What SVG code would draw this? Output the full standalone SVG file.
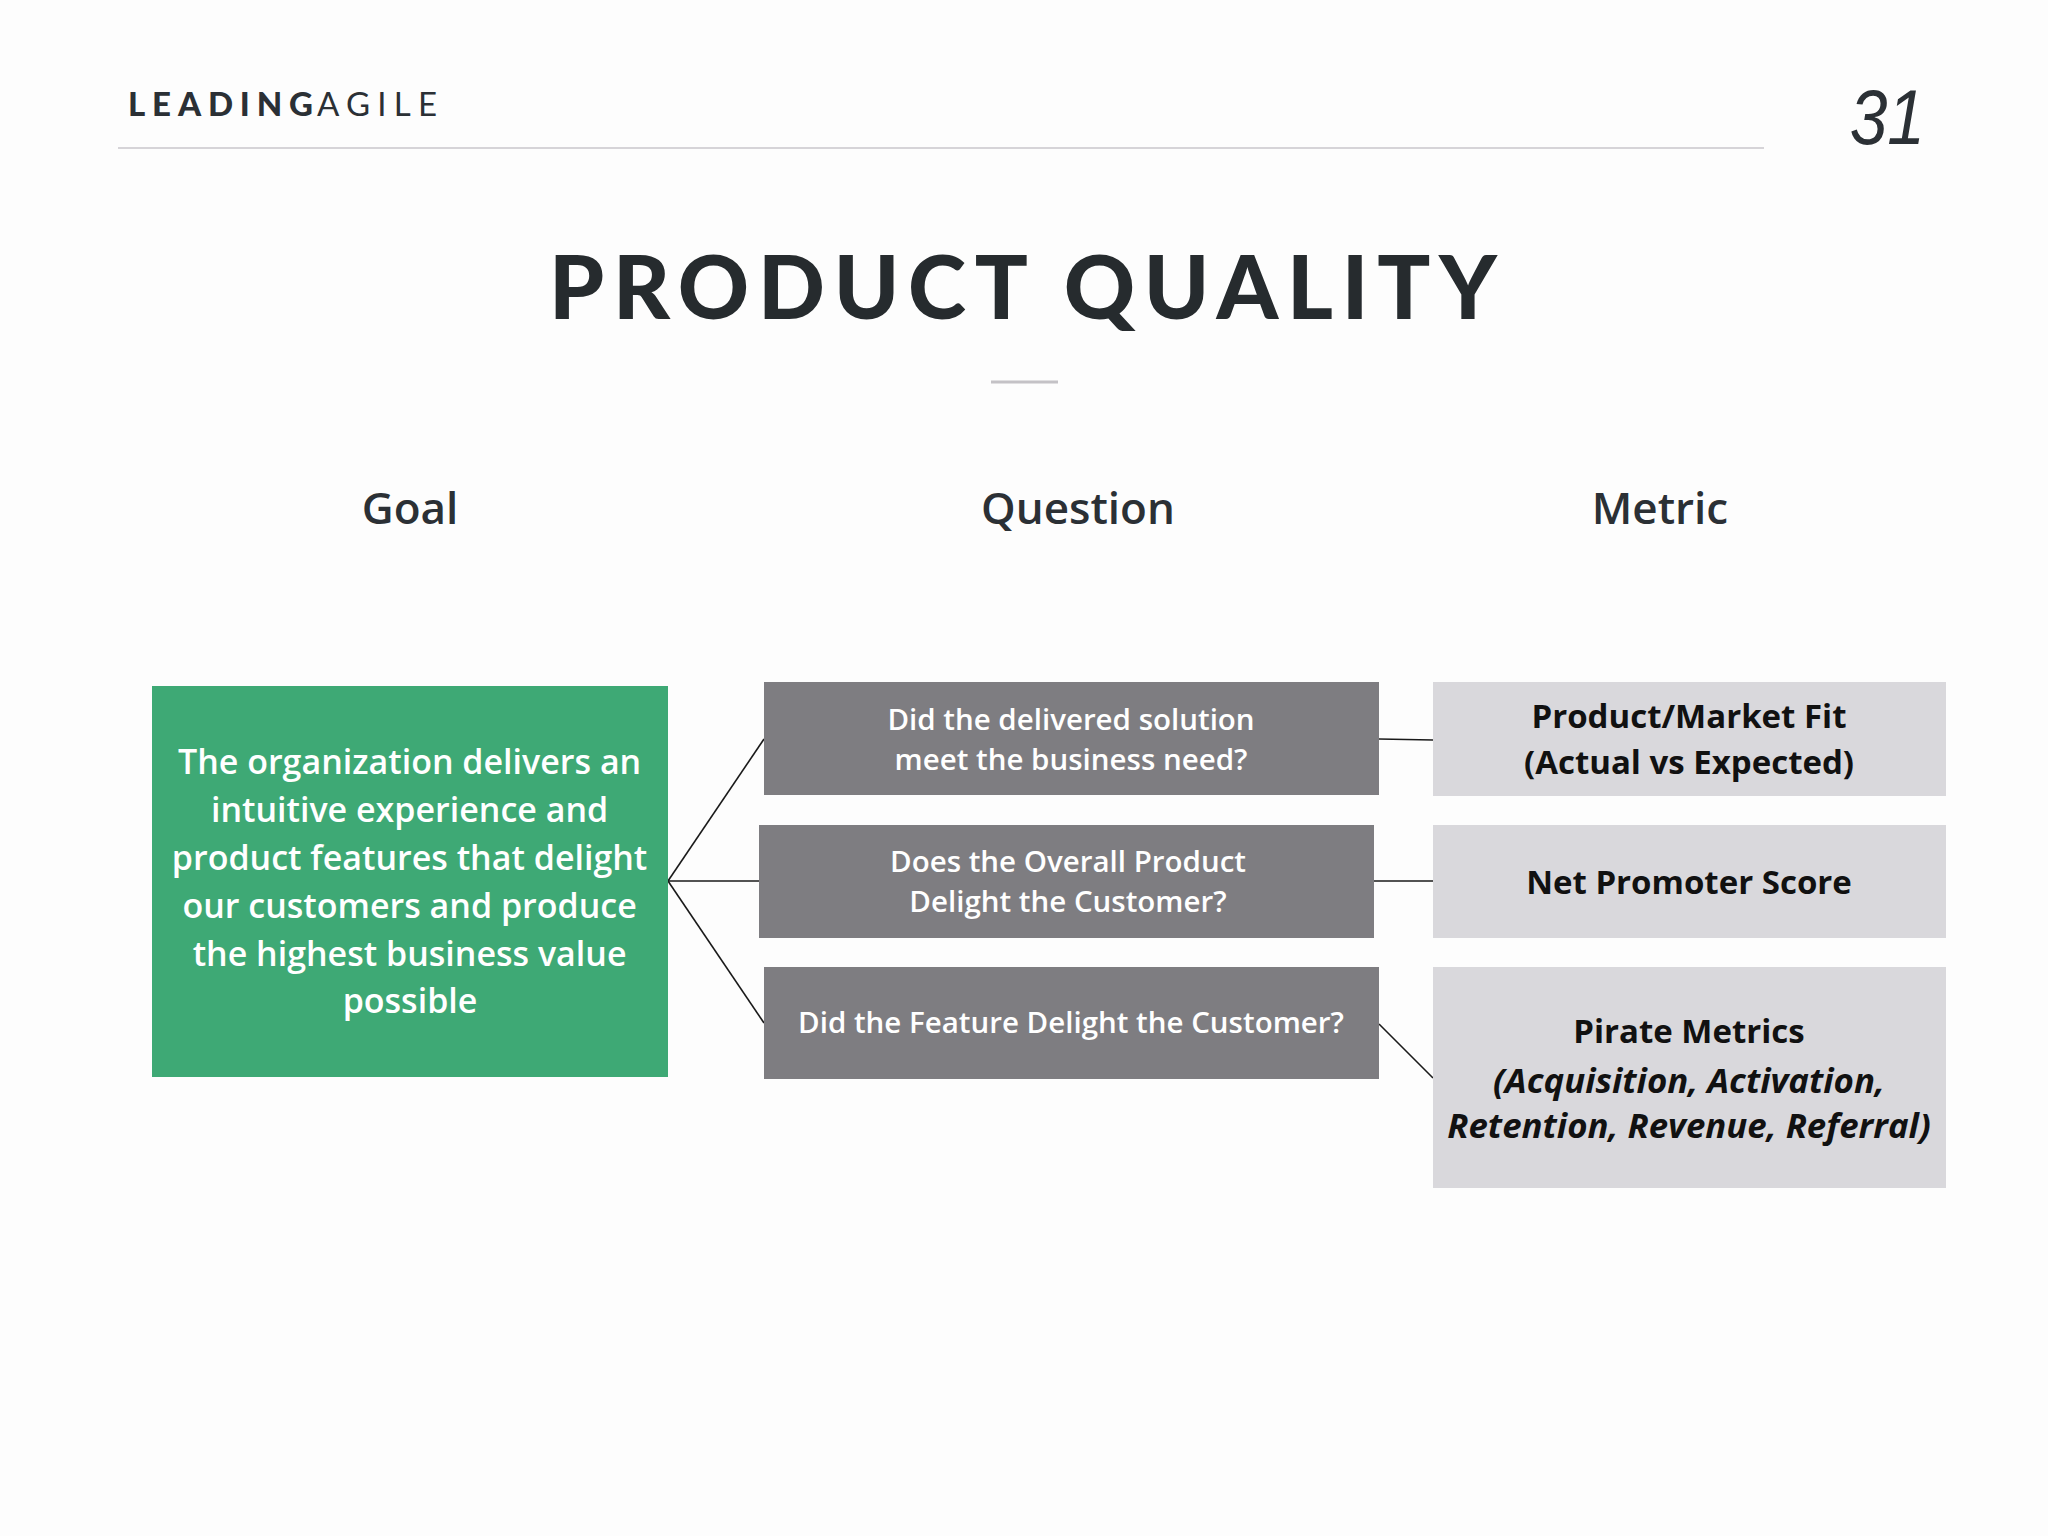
<svg xmlns="http://www.w3.org/2000/svg" width="2048" height="1536" viewBox="0 0 2048 1536">
<defs>
<style>
.bg{fill:#fdfdfd}
.goal{fill:#3ea975}
.q{fill:#7e7d81}
.m{fill:#d9d8dc}
.conn line{stroke:#1a1a1a;stroke-width:1.6;fill:none}
.t{font-family:"Open Sans","Noto Sans","Liberation Sans",sans-serif}
.gt{font-size:34px;font-weight:600;fill:#ffffff;text-anchor:middle}
.qt{font-size:29.5px;font-weight:600;fill:#ffffff;text-anchor:middle}
.mt{font-size:33px;font-weight:700;fill:#111111;text-anchor:middle}
.mi{font-size:34.8px;font-style:italic}
.hd{font-size:44px;font-weight:600;fill:#2b3035;text-anchor:middle}
</style>
</defs>
<rect class="bg" x="0" y="0" width="2048" height="1536"/>

<g id="header">
<text x="128" y="116" font-family="Lato,'Open Sans',sans-serif" font-size="33" font-weight="900" fill="#2b3035" textLength="185" lengthAdjust="spacing">LEADING</text>
<text x="317" y="116" font-family="Lato,'Open Sans',sans-serif" font-size="33" font-weight="400" fill="#2b3035" textLength="120" lengthAdjust="spacing">AGILE</text>
<line x1="118" y1="148" x2="1764" y2="148" stroke="#d6d4d8" stroke-width="2"/>
<text transform="translate(1925,144) scale(0.88,1)" x="0" y="0" font-family="'Liberation Sans',sans-serif" font-size="77" font-style="italic" fill="#2b3035" text-anchor="end">31</text>
</g>

<g id="title">
<text x="549" y="319" font-family="Lato,'Open Sans',sans-serif" font-size="88" font-weight="900" fill="#262b2e" textLength="948" lengthAdjust="spacing">PRODUCT QUALITY</text>
<line x1="991" y1="382" x2="1058" y2="382" stroke="#c4c2c6" stroke-width="3"/>
</g>

<g id="headings">
<text class="t hd" x="410" y="524">Goal</text>
<text class="t hd" x="1078" y="524">Question</text>
<text class="t hd" x="1660" y="524">Metric</text>
</g>

<g id="connectors" class="conn">
<line x1="668" y1="881" x2="764" y2="739"/>
<line x1="668" y1="881" x2="759" y2="881"/>
<line x1="668" y1="881" x2="764" y2="1023"/>
<line x1="1379" y1="739" x2="1433" y2="740"/>
<line x1="1374" y1="881" x2="1433" y2="881"/>
<line x1="1379" y1="1024" x2="1433" y2="1078"/>
</g>

<g id="goal">
<rect class="goal" x="152" y="686" width="516" height="391"/>
<text class="t gt">
<tspan x="414" y="774">The organization delivers an</tspan>
<tspan x="414" y="822">intuitive experience and</tspan>
<tspan x="414" y="870">product features that delight</tspan>
<tspan x="414" y="918">our customers and produce</tspan>
<tspan x="414" y="966">the highest business value</tspan>
<tspan x="410" y="1013">possible</tspan>
</text>
</g>

<g id="q1">
<rect class="q" x="764" y="682" width="615" height="113"/>
<text class="t qt"><tspan x="1071" y="730">Did the delivered solution</tspan><tspan x="1071" y="770">meet the business need?</tspan></text>
</g>
<g id="q2">
<rect class="q" x="759" y="825" width="615" height="113"/>
<text class="t qt"><tspan x="1068" y="872">Does the Overall Product</tspan><tspan x="1068" y="912">Delight the Customer?</tspan></text>
</g>
<g id="q3">
<rect class="q" x="764" y="967" width="615" height="112"/>
<text class="t qt" x="1071" y="1033">Did the Feature Delight the Customer?</text>
</g>

<g id="m1">
<rect class="m" x="1433" y="682" width="513" height="114"/>
<text class="t mt"><tspan x="1689" y="728">Product/Market Fit</tspan><tspan x="1689" y="774">(Actual vs Expected)</tspan></text>
</g>
<g id="m2">
<rect class="m" x="1433" y="825" width="513" height="113"/>
<text class="t mt" x="1689" y="894">Net Promoter Score</text>
</g>
<g id="m3">
<rect class="m" x="1433" y="967" width="513" height="221"/>
<text class="t mt"><tspan x="1689" y="1043">Pirate Metrics</tspan><tspan class="mi" x="1689" y="1093">(Acquisition, Activation,</tspan><tspan class="mi" x="1689" y="1138">Retention, Revenue, Referral)</tspan></text>
</g>
</svg>
